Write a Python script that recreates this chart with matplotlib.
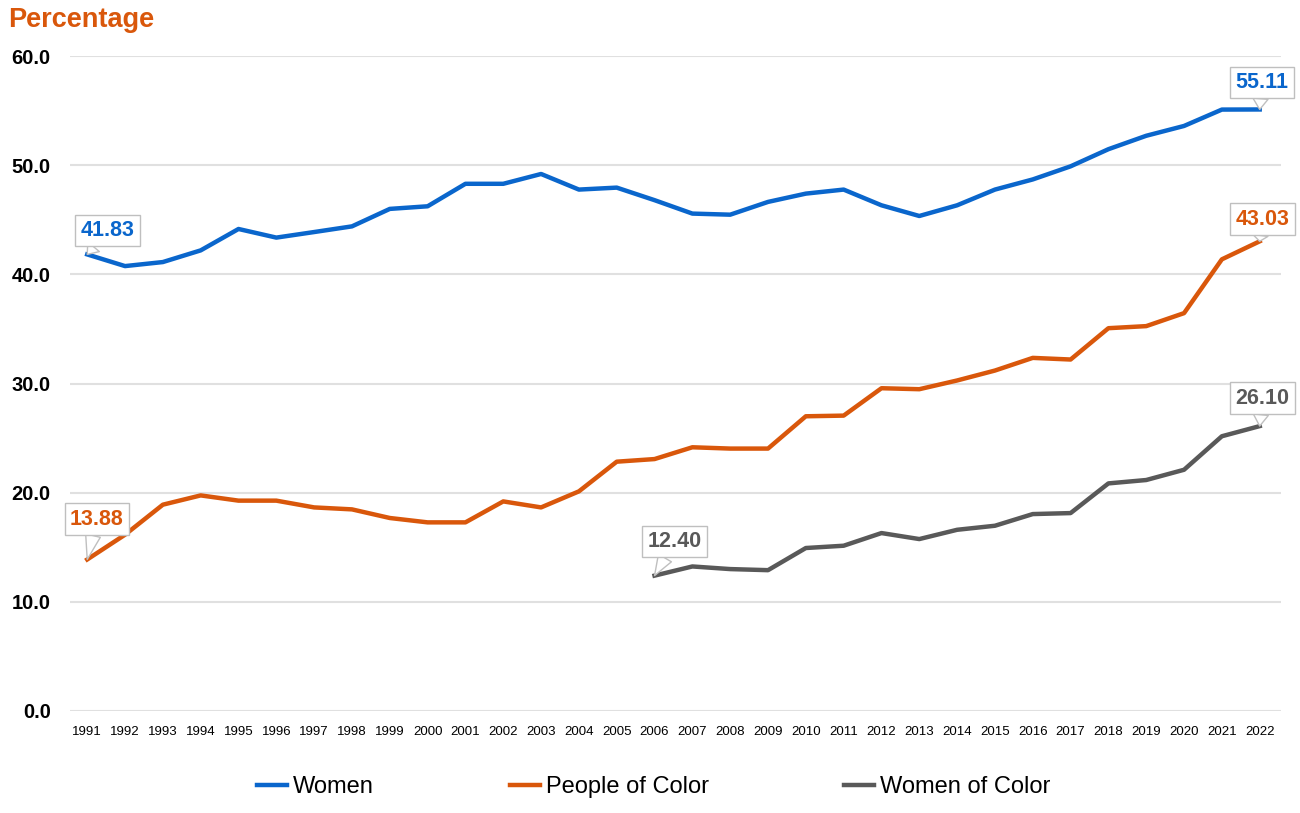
import matplotlib
matplotlib.use("Agg")
import matplotlib.pyplot as plt
import numpy as np

years = list(range(1991, 2023))

women = [41.83, 40.76, 41.13, 42.2, 44.16, 43.37, 43.88, 44.4, 46.0, 46.24,
         48.3, 48.3, 49.2, 47.77, 47.95, 46.8, 45.57, 45.47, 46.64, 47.4,
         47.77, 46.33, 45.35, 46.33, 47.77, 48.7, 49.9, 51.47, 52.7, 53.6,
         55.1, 55.11]
people_of_color = [13.88, 16.15, 18.9, 19.75, 19.27, 19.27, 18.65, 18.47, 17.68, 17.28,
                   17.28, 19.2, 18.65, 20.12, 22.84, 23.08, 24.16, 24.04, 24.04, 27.0,
                   27.06, 29.57, 29.48, 30.28, 31.19, 32.35, 32.2, 35.07, 35.26, 36.45,
                   41.38, 43.03]
woc_years = list(range(2006, 2023))
women_of_color = [12.40, 13.24, 13.0, 12.9, 14.93, 15.14, 16.3, 15.75, 16.6, 16.97,
                  18.04, 18.13, 20.85, 21.16, 22.1, 25.17, 26.10]

blue = "#0A66CC"
orange = "#D9570B"
gray = "#595959"

plt.rcParams["font.family"] = ["Liberation Sans", "DejaVu Sans"]

fig = plt.figure(figsize=(13, 8.13), dpi=100)
ax = fig.add_axes([0.054, 0.1255, 0.931, 0.8055])

ax.plot(years, women, color=blue, lw=3.2, label="Women", solid_joinstyle="round")
ax.plot(years, people_of_color, color=orange, lw=3.2, label="People of Color", solid_joinstyle="round")
ax.plot(woc_years, women_of_color, color=gray, lw=3.2, label="Women of Color", solid_joinstyle="round")

ax.set_xlim(1990.55, 2022.55)
ax.set_ylim(0, 60)
ax.set_yticks(np.arange(0, 61, 10))
ax.set_yticklabels([f"{v:.1f}" for v in np.arange(0, 61, 10)], fontsize=14.5, fontweight="bold")
ax.set_xticks(years)
ax.set_xticklabels([str(y) for y in years], fontsize=9.5)
ax.tick_params(axis="both", length=0)
ax.tick_params(axis="y", pad=14)
ax.tick_params(axis="x", pad=11)
ax.grid(axis="y", color="#E0E0E0", lw=1.5)
ax.set_axisbelow(True)
for s in ax.spines.values():
    s.set_visible(False)


def callout(x, y, txt, color, dx, dy):
    ax.annotate(txt, xy=(x, y), xytext=(dx, dy), textcoords="offset points",
                ha="center", va="center", fontsize=15.5, fontweight="bold", color=color,
                bbox=dict(boxstyle="square,pad=0.25", fc="white", ec="#BFBFBF", lw=1),
                arrowprops=dict(arrowstyle="wedge,tail_width=0.7,shrink_factor=0.5",
                                fc="white", ec="#BFBFBF", lw=1, shrinkA=0, shrinkB=0),
                zorder=5)


callout(years[0], women[0], "41.83", blue, 14.4, 17.3)
callout(years[-1], women[-1], "55.11", blue, 1.5, 19.5)
callout(years[0], people_of_color[0], "13.88", orange, 7, 29)
callout(years[-1], people_of_color[-1], "43.03", orange, 2, 16)
callout(woc_years[0], women_of_color[0], "12.40", gray, 14.4, 24.5)
callout(woc_years[-1], women_of_color[-1], "26.10", gray, 2, 20)

fig.text(0.006, 0.975, "Percentage", color=orange, fontsize=19.5, fontweight="bold",
         ha="left", va="center")

fig.legend(loc="center", bbox_to_anchor=(0.503, 0.032), ncol=3, frameon=False,
           fontsize=17, handlelength=1.27, handletextpad=0.25, columnspacing=5.75)

fig.savefig("out.png", dpi=100, facecolor="white")
